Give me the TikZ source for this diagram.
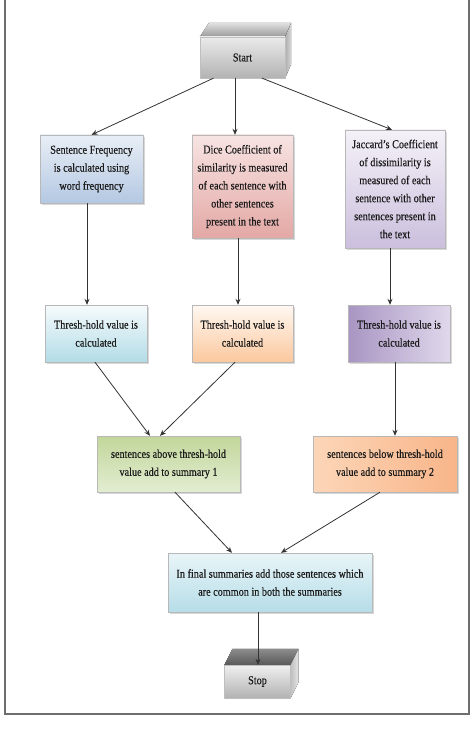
\documentclass[tikz,border=0pt]{standalone}
\usepackage{fontspec}
\setmainfont{Liberation Serif}[FakeStretch=0.85,FakeBold=0.35]
\usetikzlibrary{shadows,arrows.meta,calc}
\pgfdeclarelayer{bg}
\pgfsetlayers{bg,main}
\definecolor{framecol}{HTML}{6E6E6E}
\definecolor{linecol}{HTML}{333333}
\definecolor{txt}{HTML}{1A1A1A}
\definecolor{bluetop}{HTML}{E8EEF6}
\definecolor{bluebot}{HTML}{B4C8E2}
\definecolor{redtop}{HTML}{F7E4E3}
\definecolor{redbot}{HTML}{E3A8A5}
\definecolor{purtop}{HTML}{F4F1F8}
\definecolor{purbot}{HTML}{CBBFDD}
\definecolor{cyantop}{HTML}{F6FBFC}
\definecolor{cyanbot}{HTML}{B3DCE7}
\definecolor{peachtop}{HTML}{FFF8F2}
\definecolor{peachbot}{HTML}{FBC89E}
\definecolor{thpurL}{HTML}{A895C2}
\definecolor{thpurR}{HTML}{E0D8EC}
\definecolor{greentop}{HTML}{C2D69A}
\definecolor{greenbot}{HTML}{E3EDD2}
\definecolor{orL}{HTML}{FCD6B8}
\definecolor{orR}{HTML}{F8B589}
\definecolor{fintop}{HTML}{E9F5F8}
\definecolor{finbot}{HTML}{B6DDE8}
\begin{document}
\begin{tikzpicture}[x=1pt,y=-1pt,
  box/.style={rectangle, draw=black!28, line width=0.4pt, align=center,
    font=\fontsize{12}{18}\selectfont, text=txt, inner sep=2pt,
    drop shadow={shadow xshift=1.6pt, shadow yshift=-1.8pt, opacity=0.3}},
  cube/.style={rectangle, draw=black!25, line width=0.3pt, align=center,
    font=\fontsize{12}{18}\selectfont, text=txt},
  arr/.style={draw=linecol, line width=0.8pt, -{Stealth[length=6pt,width=5pt]}},
]
\useasboundingbox (0,0) rectangle (474,735);
\begin{pgfonlayer}{bg}
\fill[white] (0,0) rectangle (474,735);
\end{pgfonlayer}
\draw[framecol, line width=1.3pt] (5,-5) rectangle (469,714);

% Start cube
\node[cube, minimum width=85pt, minimum height=41pt, top color=black!8, bottom color=black!30] (start) at (242.5,57.5) {Start};
\begin{pgfonlayer}{bg}
\fill[top color=black!12, bottom color=black!40] (start.north west) -- ++(9,-14) -- ($(start.north east)+(6,-14)$) -- (start.north east) -- cycle;
\fill[left color=black!32, right color=black!15] (start.north east) -- ++(6,-14) -- ($(start.south east)+(6,-14)$) -- (start.south east) -- cycle;
\end{pgfonlayer}

% Row 1
\node[box, minimum width=103pt, minimum height=68pt, top color=bluetop, bottom color=bluebot] (b1) at (91.5,169)
  {Sentence Frequency\\is calculated using\\word frequency};
\node[box, minimum width=101pt, minimum height=103pt, top color=redtop, bottom color=redbot] (b2) at (242.5,186.5)
  {Dice Coefficient of\\similarity is measured\\of each sentence with\\other sentences\\present in the text};
\node[box, minimum width=100pt, minimum height=118pt, top color=purtop, bottom color=purbot] (b3) at (395,189)
  {Jaccard's Coefficient\\of dissimilarity is\\measured of each\\sentence with other\\sentences present in\\the text};

% Row 2
\node[box, minimum width=102pt, minimum height=57pt, top color=cyantop, bottom color=cyanbot] (t1) at (96,333.5)
  {Thresh-hold value is\\calculated};
\node[box, minimum width=101pt, minimum height=57pt, top color=peachtop, bottom color=peachbot] (t2) at (242.5,333.5)
  {Thresh-hold value is\\calculated};
\node[box, minimum width=102pt, minimum height=57pt, left color=thpurL, right color=thpurR] (t3) at (399,333.5)
  {Thresh-hold value is\\calculated};

% Row 3
\node[box, minimum width=143pt, minimum height=56pt, top color=greentop, bottom color=greenbot] (s1) at (168.5,464)
  {sentences above thresh-hold\\value add to summary 1};
\node[box, minimum width=144pt, minimum height=56pt, left color=orL, right color=orR] (s2) at (385,464)
  {sentences below thresh-hold\\value add to summary 2};

% Final
\node[box, minimum width=204pt, minimum height=59pt, top color=fintop, bottom color=finbot] (fin) at (270,582.5)
  {In final summaries add those sentences which\\are common in both the summaries};

% Stop cube
\node[cube, minimum width=66pt, minimum height=33pt, top color=black!6, bottom color=black!30] (stop) at (257.5,681.5) {Stop};
\begin{pgfonlayer}{bg}
\fill[top color=black!45, bottom color=black!65] (stop.north west) -- ++(8,-16) -- ($(stop.north east)+(8,-16)$) -- (stop.north east) -- cycle;
\fill[left color=black!25, right color=black!10] (stop.north east) -- ++(8,-16) -- ($(stop.south east)+(8,-16)$) -- (stop.south east) -- cycle;
\end{pgfonlayer}

% Connectors
\draw[arr] ([xshift=-29pt]start.south) -- (b1.north);
\draw[arr] ([xshift=-7.5pt]start.south) -- ([xshift=-7.5pt]b2.north);
\draw[arr] ([xshift=19.5pt]start.south) -- ([xshift=-3pt]b3.north);
\draw[arr] ([xshift=-4.5pt]b1.south) -- ([xshift=-9pt]t1.north);
\draw[arr] ([xshift=-4.5pt]b2.south) -- ([xshift=-4.5pt]t2.north);
\draw[arr] ([xshift=-5pt]b3.south) -- ([xshift=-9pt]t3.north);
\draw[arr] ([xshift=-1pt]t1.south) -- ([xshift=-18.5pt]s1.north);
\draw[arr] ([xshift=-7.5pt]t2.south) -- ([xshift=-8.5pt]s1.north);
\draw[arr] ([xshift=-4pt]t3.south) -- ([xshift=10pt]s2.north);
\draw[arr] ([xshift=6.5pt]s1.south) -- ([xshift=-38pt]fin.north);
\draw[arr] ([xshift=-5pt]s2.south) -- ([xshift=11pt]fin.north);
\draw[arr] ([xshift=-12pt]fin.south) -- ([xshift=0.5pt]stop.north);
\end{tikzpicture}
\end{document}
